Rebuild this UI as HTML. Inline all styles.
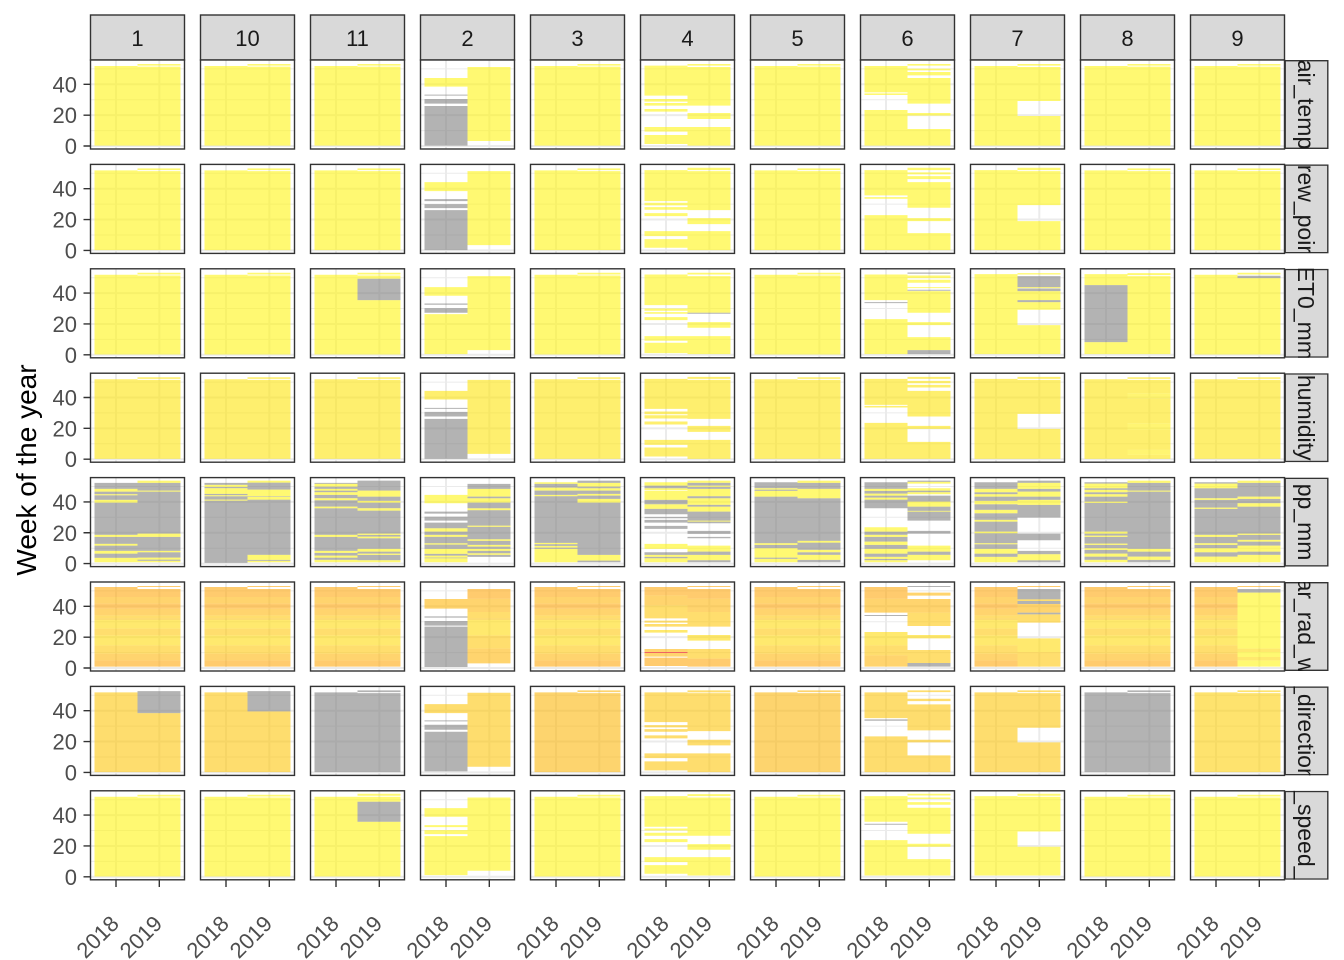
<!DOCTYPE html>
<html><head><meta charset="utf-8"><style>
html,body{margin:0;padding:0;background:#fff}
svg{display:block;font-family:"Liberation Sans",Arial,sans-serif}
.tl{font-size:22px;fill:#4D4D4D}
.st{font-size:22px;fill:#1A1A1A}
.rs{font-size:23px;fill:#1A1A1A}
</style></head><body>
<svg width="1344" height="960" viewBox="0 0 1344 960" xmlns="http://www.w3.org/2000/svg">
<defs>
<g id="bg"><rect width="94" height="89" fill="#fff"/>
<path d="M0 70.6H94M0 39.7H94M0 8.9H94" stroke="#EBEBEB" stroke-width="1" fill="none"/>
<path d="M0 86H94M0 55.15H94M0 24.3H94M25.5 0V89M68.8 0V89" stroke="#EBEBEB" stroke-width="2" fill="none"/></g>
<rect id="bd" x="0" y="0" width="94" height="89" fill="none" stroke="#333" stroke-width="1.4"/>
<path id="D" d="M4 18h43V257H4z M47 12h43V17H47z M47 20h43V257H47z"/>
<g id="SA">
<path fill="#FFA80D" d="M4 15h43V45H4z M4 65h43V80H4z M4 235h43V254H4z"/>
<path fill="#FFB80D" d="M4 45h43V65H4z M4 80h43V100H4z M4 215h43V235H4z"/>
<path fill="#FFC80D" d="M4 100h43V110H4z M4 140h43V160H4z M4 190h43V215H4z"/>
<path fill="#FFDA0D" d="M4 113h43V140H4z M4 160h43V190H4z"/>
<path fill="#F5B400" d="M4 110h43V113H4z"/>
</g>
<g id="SB">
<path fill="#FFA80D" d="M47 12h43V15H47z M47 21h43V45H47z M47 65h43V80H47z M47 235h43V254H47z"/>
<path fill="#FFB80D" d="M47 45h43V65H47z M47 80h43V100H47z M47 215h43V235H47z"/>
<path fill="#FFC80D" d="M47 100h43V110H47z M47 140h43V160H47z M47 190h43V215H47z"/>
<path fill="#FFDA0D" d="M47 113h43V140H47z M47 160h43V190H47z"/>
<path fill="#F5B400" d="M47 110h43V113H47z"/>
</g>
</defs>
<rect width="1344" height="960" fill="#fff"/>

<!-- top strips -->
<g stroke="#333" stroke-width="1.4" fill="#D9D9D9">
<rect x="90.5" y="15" width="94" height="45"/><rect x="200.5" y="15" width="94" height="45"/><rect x="310.5" y="15" width="94" height="45"/><rect x="420.5" y="15" width="94" height="45"/><rect x="530.5" y="15" width="94" height="45"/><rect x="640.5" y="15" width="94" height="45"/><rect x="750.5" y="15" width="94" height="45"/><rect x="860.5" y="15" width="94" height="45"/><rect x="970.5" y="15" width="94" height="45"/><rect x="1080.5" y="15" width="94" height="45"/><rect x="1190.5" y="15" width="94" height="45"/>
</g>
<g class="st" text-anchor="middle">
<text x="137.5" y="46">1</text><text x="247.5" y="46">10</text><text x="357.5" y="46">11</text><text x="467.5" y="46">2</text><text x="577.5" y="46">3</text><text x="687.5" y="46">4</text><text x="797.5" y="46">5</text><text x="907.5" y="46">6</text><text x="1017.5" y="46">7</text><text x="1127.5" y="46">8</text><text x="1237.5" y="46">9</text>
</g>

<!-- right strips -->
<svg x="1284.5" y="60" width="44" height="89"><rect x="0.7" y="0.7" width="42.6" height="87.6" fill="#D9D9D9" stroke="#333" stroke-width="1.4"/><text class="rs" transform="translate(13.5,44.5) rotate(90)" text-anchor="middle">air_temp</text></svg>
<svg x="1284.5" y="164.4" width="44" height="89"><rect x="0.7" y="0.7" width="42.6" height="87.6" fill="#D9D9D9" stroke="#333" stroke-width="1.4"/><text class="rs" transform="translate(13.5,44.5) rotate(90)" text-anchor="middle">rew_poir</text></svg>
<svg x="1284.5" y="268.8" width="44" height="89"><rect x="0.7" y="0.7" width="42.6" height="87.6" fill="#D9D9D9" stroke="#333" stroke-width="1.4"/><text class="rs" transform="translate(13.5,44.5) rotate(90)" text-anchor="middle">ET0_mm</text></svg>
<svg x="1284.5" y="373.2" width="44" height="89"><rect x="0.7" y="0.7" width="42.6" height="87.6" fill="#D9D9D9" stroke="#333" stroke-width="1.4"/><text class="rs" transform="translate(13.5,44.5) rotate(90)" text-anchor="middle">humidity</text></svg>
<svg x="1284.5" y="477.6" width="44" height="89"><rect x="0.7" y="0.7" width="42.6" height="87.6" fill="#D9D9D9" stroke="#333" stroke-width="1.4"/><text class="rs" transform="translate(13.5,44.5) rotate(90)" text-anchor="middle">pp_mm</text></svg>
<svg x="1284.5" y="582" width="44" height="89"><rect x="0.7" y="0.7" width="42.6" height="87.6" fill="#D9D9D9" stroke="#333" stroke-width="1.4"/><text class="rs" transform="translate(13.5,44.5) rotate(90)" text-anchor="middle">ar_rad_w</text></svg>
<svg x="1284.5" y="686.4" width="44" height="89"><rect x="0.7" y="0.7" width="42.6" height="87.6" fill="#D9D9D9" stroke="#333" stroke-width="1.4"/><text class="rs" transform="translate(13.5,44.5) rotate(90)" text-anchor="middle">_direction</text></svg>
<svg x="1284.5" y="790.8" width="44" height="89"><rect x="0.7" y="0.7" width="42.6" height="87.6" fill="#D9D9D9" stroke="#333" stroke-width="1.4"/><text class="rs" transform="translate(13.5,44.5) rotate(90)" text-anchor="middle">_speed_</text></svg>

<!-- ROW 0 air_temp T=60 -->
<g transform="translate(90.5,60)"><use href="#bg"/><g transform="scale(1,.33333)" fill-opacity=".6"><use href="#D" fill="#FFF514"/></g><use href="#bd"/></g>
<g transform="translate(200.5,60)"><use href="#bg"/><g transform="scale(1,.33333)" fill-opacity=".6"><use href="#D" fill="#FFF514"/></g><use href="#bd"/></g>
<g transform="translate(310.5,60)"><use href="#bg"/><g transform="scale(1,.33333)" fill-opacity=".6"><use href="#D" fill="#FFF514"/></g><use href="#bd"/></g>
<g transform="translate(420.5,60)"><use href="#bg"/><g transform="scale(1,.33333)" fill-opacity=".6">
<path fill="#FFF514" d="M4 54h43V80H4z M47 21h43V243H47z"/>
<path fill="#808080" d="M4 104h43V107H4z M4 117h43V131H4z M4 138h43V257H4z"/>
</g><use href="#bd"/></g>
<g transform="translate(530.5,60)"><use href="#bg"/><g transform="scale(1,.33333)" fill-opacity=".6"><use href="#D" fill="#FFF514"/></g><use href="#bd"/></g>
<g transform="translate(640.5,60)"><use href="#bg"/><g transform="scale(1,.33333)" fill-opacity=".6">
<path fill="#FFF514" d="M4 17h43V107H4z M4 117h43V125H4z M4 129h43V137H4z M4 147h43V155H4z M4 201h43V215H4z M4 225h43V252H4z M47 12h43V17H47z M47 21h43V137H47z M47 159h43V177H47z M47 201h43V257H47z"/>
</g><use href="#bd"/></g>
<g transform="translate(750.5,60)"><use href="#bg"/><g transform="scale(1,.33333)" fill-opacity=".6"><use href="#D" fill="#FFF514"/></g><use href="#bd"/></g>
<g transform="translate(860.5,60)"><use href="#bg"/><g transform="scale(1,.33333)" fill-opacity=".6">
<path fill="#FFF514" d="M4 18h43V97H4z M4 100h43V105H4z M4 150h43V257H4z M47 12h43V17H47z M47 26h43V31H47z M47 36h43V46H47z M47 54h43V131H47z M47 159h43V167H47z M47 207h43V257H47z"/>
</g><use href="#bd"/></g>
<g transform="translate(970.5,60)"><use href="#bg"/><g transform="scale(1,.33333)" fill-opacity=".6">
<path fill="#FFF514" d="M4 18h43V257H4z M47 12h43V17H47z M47 21h43V123H47z M47 168h43V257H47z"/>
</g><use href="#bd"/></g>
<g transform="translate(1080.5,60)"><use href="#bg"/><g transform="scale(1,.33333)" fill-opacity=".6"><use href="#D" fill="#FFF514"/></g><use href="#bd"/></g>
<g transform="translate(1190.5,60)"><use href="#bg"/><g transform="scale(1,.33333)" fill-opacity=".6"><use href="#D" fill="#FFF514"/></g><use href="#bd"/></g>

<!-- ROW 1 dew T=164.4 -->
<g transform="translate(90.5,164.4)"><use href="#bg"/><g transform="scale(1,.33333)" fill-opacity=".6"><use href="#D" fill="#FFF514"/></g><use href="#bd"/></g>
<g transform="translate(200.5,164.4)"><use href="#bg"/><g transform="scale(1,.33333)" fill-opacity=".6"><use href="#D" fill="#FFF514"/></g><use href="#bd"/></g>
<g transform="translate(310.5,164.4)"><use href="#bg"/><g transform="scale(1,.33333)" fill-opacity=".6"><use href="#D" fill="#FFF514"/></g><use href="#bd"/></g>
<g transform="translate(420.5,164.4)"><use href="#bg"/><g transform="scale(1,.33333)" fill-opacity=".6">
<path fill="#FFF514" d="M4 53h43V80H4z M47 20h43V242H47z"/>
<path fill="#808080" d="M4 104h43V110H4z M4 119h43V131H4z M4 137h43V257H4z"/>
</g><use href="#bd"/></g>
<g transform="translate(530.5,164.4)"><use href="#bg"/><g transform="scale(1,.33333)" fill-opacity=".6"><use href="#D" fill="#FFF514"/></g><use href="#bd"/></g>
<g transform="translate(640.5,164.4)"><use href="#bg"/><g transform="scale(1,.33333)" fill-opacity=".6">
<path fill="#FFF514" d="M4 17h43V110H4z M4 115h43V123H4z M4 128h43V136H4z M4 146h43V155H4z M4 200h43V215H4z M4 224h43V250H4z M47 10h43V17H47z M47 20h43V137H47z M47 161h43V179H47z M47 200h43V257H47z"/>
</g><use href="#bd"/></g>
<g transform="translate(750.5,164.4)"><use href="#bg"/><g transform="scale(1,.33333)" fill-opacity=".6"><use href="#D" fill="#FFF514"/></g><use href="#bd"/></g>
<g transform="translate(860.5,164.4)"><use href="#bg"/><g transform="scale(1,.33333)" fill-opacity=".6">
<path fill="#FFF514" d="M4 17h43V93H4z M4 98h43V103H4z M4 152h43V257H4z M47 10h43V17H47z M47 24h43V30H47z M47 35h43V44H47z M47 53h43V130H47z M47 161h43V170H47z M47 206h43V257H47z"/>
</g><use href="#bd"/></g>
<g transform="translate(970.5,164.4)"><use href="#bg"/><g transform="scale(1,.33333)" fill-opacity=".6">
<path fill="#FFF514" d="M4 17h43V257H4z M47 10h43V17H47z M47 20h43V122H47z M47 170h43V257H47z"/>
</g><use href="#bd"/></g>
<g transform="translate(1080.5,164.4)"><use href="#bg"/><g transform="scale(1,.33333)" fill-opacity=".6"><use href="#D" fill="#FFF514"/></g><use href="#bd"/></g>
<g transform="translate(1190.5,164.4)"><use href="#bg"/><g transform="scale(1,.33333)" fill-opacity=".6"><use href="#D" fill="#FFF514"/></g><use href="#bd"/></g>

<!-- ROW 2 ET0 T=268.8 -->
<g transform="translate(90.5,268.8)"><use href="#bg"/><g transform="scale(1,.33333)" fill-opacity=".6"><use href="#D" fill="#FFF514"/></g><use href="#bd"/></g>
<g transform="translate(200.5,268.8)"><use href="#bg"/><g transform="scale(1,.33333)" fill-opacity=".6"><use href="#D" fill="#FFF514"/></g><use href="#bd"/></g>
<g transform="translate(310.5,268.8)"><use href="#bg"/><g transform="scale(1,.33333)" fill-opacity=".6">
<path fill="#FFF514" d="M4 18h43V257H4z M47 12h43V17H47z M47 20h43V30H47z M47 94h43V257H47z"/>
<path fill="#808080" d="M47 30h43V94H47z"/>
</g><use href="#bd"/></g>
<g transform="translate(420.5,268.8)"><use href="#bg"/><g transform="scale(1,.33333)" fill-opacity=".6">
<path fill="#FFF514" d="M4 55h43V81H4z M4 136h43V256H4z M47 22h43V244H47z"/>
<path fill="#808080" d="M4 104h43V108H4z M4 118h43V132H4z"/>
</g><use href="#bd"/></g>
<g transform="translate(530.5,268.8)"><use href="#bg"/><g transform="scale(1,.33333)" fill-opacity=".6"><use href="#D" fill="#FFF514"/></g><use href="#bd"/></g>
<g transform="translate(640.5,268.8)"><use href="#bg"/><g transform="scale(1,.33333)" fill-opacity=".6">
<path fill="#FFF514" d="M4 17h43V109H4z M4 119h43V126H4z M4 130h43V135H4z M4 145h43V154H4z M4 202h43V216H4z M4 222h43V253H4z M47 12h43V17H47z M47 22h43V132H47z M47 160h43V177H47z M47 202h43V256H47z"/>
<path fill="#808080" d="M47 132h43V135H47z"/>
</g><use href="#bd"/></g>
<g transform="translate(750.5,268.8)"><use href="#bg"/><g transform="scale(1,.33333)" fill-opacity=".6"><use href="#D" fill="#FFF514"/></g><use href="#bd"/></g>
<g transform="translate(860.5,268.8)"><use href="#bg"/><g transform="scale(1,.33333)" fill-opacity=".6">
<path fill="#FFF514" d="M4 17h43V94H4z M4 151h43V256H4z M47 20h43V28H47z M47 33h43V42H47z M47 55h43V58H47z M47 67h43V132H47z M47 160h43V169H47z M47 205h43V244H47z"/>
<path fill="#808080" d="M4 100h43V103H4z M47 11h43V15H47z M47 63h43V66H47z M47 244h43V256H47z"/>
</g><use href="#bd"/></g>
<g transform="translate(970.5,268.8)"><use href="#bg"/><g transform="scale(1,.33333)" fill-opacity=".6">
<path fill="#FFF514" d="M4 16h43V256H4z M47 13h43V17H47z M47 55h43V58H47z M47 67h43V94H47z M47 100h43V123H47z M47 169h43V256H47z"/>
<path fill="#808080" d="M47 22h43V55H47z M47 59h43V67H47z M47 94h43V100H47z"/>
</g><use href="#bd"/></g>
<g transform="translate(1080.5,268.8)"><use href="#bg"/><g transform="scale(1,.33333)" fill-opacity=".6">
<path fill="#FFF514" d="M4 16h43V49H4z M4 220h43V256H4z M47 13h43V19H47z M47 22h43V256H47z"/>
<path fill="#808080" d="M4 49h43V220H4z"/>
</g><use href="#bd"/></g>
<g transform="translate(1190.5,268.8)"><use href="#bg"/><g transform="scale(1,.33333)" fill-opacity=".6">
<path fill="#FFF514" d="M4 18h43V257H4z M47 12h43V17H47z M47 28h43V257H47z"/>
<path fill="#808080" d="M47 21h43V28H47z"/>
</g><use href="#bd"/></g>

<!-- ROW 3 humidity T=373.2 -->
<g transform="translate(90.5,373.2)"><use href="#bg"/><g transform="scale(1,.33333)" fill-opacity=".6"><use href="#D" fill="#FDE40D"/></g><use href="#bd"/></g>
<g transform="translate(200.5,373.2)"><use href="#bg"/><g transform="scale(1,.33333)" fill-opacity=".6"><use href="#D" fill="#FDE40D"/></g><use href="#bd"/></g>
<g transform="translate(310.5,373.2)"><use href="#bg"/><g transform="scale(1,.33333)" fill-opacity=".6"><use href="#D" fill="#FDE40D"/></g><use href="#bd"/></g>
<g transform="translate(420.5,373.2)"><use href="#bg"/><g transform="scale(1,.33333)" fill-opacity=".6">
<path fill="#FDE40D" d="M4 53h43V79H4z M47 20h43V242H47z"/>
<path fill="#808080" d="M4 104h43V107H4z M4 116h43V130H4z M4 137h43V257H4z"/>
</g><use href="#bd"/></g>
<g transform="translate(530.5,373.2)"><use href="#bg"/><g transform="scale(1,.33333)" fill-opacity=".6"><use href="#D" fill="#FDE40D"/></g><use href="#bd"/></g>
<g transform="translate(640.5,373.2)"><use href="#bg"/><g transform="scale(1,.33333)" fill-opacity=".6">
<path fill="#FDE40D" d="M4 17h43V107H4z M4 115h43V123H4z M4 126h43V136H4z M4 145h43V154H4z M4 200h43V215H4z M4 223h43V250H4z M47 11h43V17H47z M47 20h43V137H47z M47 158h43V176H47z M47 200h43V257H47z"/>
</g><use href="#bd"/></g>
<g transform="translate(750.5,373.2)"><use href="#bg"/><g transform="scale(1,.33333)" fill-opacity=".6"><use href="#D" fill="#FDE40D"/></g><use href="#bd"/></g>
<g transform="translate(860.5,373.2)"><use href="#bg"/><g transform="scale(1,.33333)" fill-opacity=".6">
<path fill="#FDE40D" d="M4 17h43V95H4z M4 98h43V103H4z M4 149h43V257H4z M47 11h43V17H47z M47 23h43V30H47z M47 35h43V43H47z M47 53h43V130H47z M47 158h43V167H47z M47 206h43V257H47z"/>
</g><use href="#bd"/></g>
<g transform="translate(970.5,373.2)"><use href="#bg"/><g transform="scale(1,.33333)" fill-opacity=".6">
<path fill="#FDE40D" d="M4 17h43V257H4z M47 11h43V17H47z M47 20h43V122H47z M47 167h43V257H47z"/>
</g><use href="#bd"/></g>
<g transform="translate(1080.5,373.2)"><use href="#bg"/><g transform="scale(1,.33333)" fill-opacity=".6">
<path fill="#FDE40D" d="M4 18h43V257H4z M47 12h43V17H47z M47 20h43V60H47z M47 75h43V150H47z M47 170h43V230H47z M47 245h43V257H47z"/>
<path fill="#FFEF14" d="M47 60h43V75H47z M47 150h43V170H47z M47 230h43V245H47z"/>
</g><use href="#bd"/></g>
<g transform="translate(1190.5,373.2)"><use href="#bg"/><g transform="scale(1,.33333)" fill-opacity=".6"><use href="#D" fill="#FDE40D"/></g><use href="#bd"/></g>

<!-- ROW 4 pp_mm T=477.6 -->
<g transform="translate(90.5,477.6)"><use href="#bg"/><g transform="scale(1,.33333)" fill-opacity=".6">
<path fill="#808080" d="M4 16h43V34H4z M4 42h43V50H4z M4 53h43V67H4z M4 75h43V172H4z M4 178h43V199H4z M4 204h43V220H4z M4 228h43V241H4z M47 16h43V39H47z M47 42h43V168H47z M47 178h43V220H47z M47 224h43V240H47z M47 246h43V250H47z"/>
<path fill="#FFF514" d="M4 34h43V42H4z M4 50h43V53H4z M4 67h43V75H4z M4 172h43V178H4z M4 199h43V204H4z M4 220h43V228H4z M4 241h43V254H4z M47 9h43V16H47z M47 39h43V42H47z M47 168h43V178H47z M47 220h43V224H47z M47 240h43V246H47z M47 250h43V254H47z"/>
</g><use href="#bd"/></g>
<g transform="translate(200.5,477.6)"><use href="#bg"/><g transform="scale(1,.33333)" fill-opacity=".6">
<path fill="#808080" d="M4 16h43V22H4z M4 28h43V32H4z M4 49h43V53H4z M4 56h43V66H4z M4 69h43V256H4z M47 15h43V36H47z M47 56h43V58H47z M47 66h43V232H47z M47 247h43V250H47z"/>
<path fill="#FFF514" d="M4 22h43V28H4z M4 32h43V49H4z M4 53h43V56H4z M4 66h43V69H4z M47 9h43V15H47z M47 36h43V56H47z M47 58h43V66H47z M47 232h43V247H47z M47 250h43V254H47z"/>
</g><use href="#bd"/></g>
<g transform="translate(310.5,477.6)"><use href="#bg"/><g transform="scale(1,.33333)" fill-opacity=".6">
<path fill="#808080" d="M4 16h43V19H4z M4 27h43V34H4z M4 39h43V44H4z M4 52h43V62H4z M4 68h43V87H4z M4 92h43V172H4z M4 178h43V220H4z M4 226h43V234H4z M4 240h43V247H4z M47 9h43V39H47z M47 57h43V70H47z M47 75h43V92H47z M47 99h43V168H47z M47 172h43V177H47z M47 182h43V214H47z M47 222h43V228H47z M47 232h43V248H47z"/>
<path fill="#FFF514" d="M4 19h43V27H4z M4 34h43V39H4z M4 44h43V52H4z M4 62h43V68H4z M4 87h43V92H4z M4 172h43V178H4z M4 220h43V226H4z M4 234h43V240H4z M4 247h43V254H4z M47 39h43V57H47z M47 70h43V75H47z M47 92h43V99H47z M47 168h43V172H47z M47 177h43V182H47z M47 214h43V222H47z M47 228h43V232H47z M47 248h43V254H47z"/>
</g><use href="#bd"/></g>
<g transform="translate(420.5,477.6)"><use href="#bg"/><g transform="scale(1,.33333)" fill-opacity=".6">
<path fill="#FFF514" d="M4 52h43V77H4z M4 152h43V162H4z M4 172h43V178H4z M4 197h43V201H4z M4 214h43V229H4z M4 234h43V240H4z M4 242h43V254H4z M47 34h43V57H47z M47 62h43V75H47z M47 92h43V98H47z M47 144h43V148H47z M47 185h43V190H47z M47 202h43V207H47z M47 214h43V220H47z M47 227h43V232H47z"/>
<path fill="#808080" d="M4 102h43V108H4z M4 117h43V129H4z M4 135h43V152H4z M4 162h43V172H4z M4 178h43V197H4z M4 201h43V214H4z M4 229h43V234H4z M4 240h43V242H4z M47 19h43V34H47z M47 57h43V62H47z M47 75h43V92H47z M47 98h43V144H47z M47 148h43V185H47z M47 190h43V202H47z M47 207h43V214H47z M47 220h43V227H47z M47 232h43V238H47z"/>
</g><use href="#bd"/></g>
<g transform="translate(530.5,477.6)"><use href="#bg"/><g transform="scale(1,.33333)" fill-opacity=".6">
<path fill="#FFF514" d="M4 14h43V19H4z M4 30h43V39H4z M4 52h43V56H4z M4 196h43V200H4z M4 205h43V210H4z M4 214h43V254H4z M47 16h43V27H47z M47 32h43V39H47z M47 49h43V54H47z M47 64h43V75H47z M47 232h43V249H47z"/>
<path fill="#808080" d="M4 19h43V30H4z M4 39h43V52H4z M4 56h43V196H4z M4 200h43V205H4z M4 210h43V214H4z M47 9h43V16H47z M47 27h43V32H47z M47 39h43V49H47z M47 54h43V64H47z M47 75h43V232H47z M47 249h43V254H47z"/>
</g><use href="#bd"/></g>
<g transform="translate(640.5,477.6)"><use href="#bg"/><g transform="scale(1,.33333)" fill-opacity=".6">
<path fill="#FFF514" d="M4 14h43V24H4z M4 32h43V38H4z M4 40h43V67H4z M4 80h43V94H4z M4 199h43V214H4z M4 232h43V238H4z M4 242h43V254H4z M47 9h43V16H47z M47 24h43V28H47z M47 34h43V56H47z M47 62h43V82H47z M47 87h43V102H47z M47 129h43V132H47z M47 204h43V222H47z M47 232h43V248H47z"/>
<path fill="#808080" d="M4 24h43V32H4z M4 67h43V80H4z M4 94h43V110H4z M4 118h43V122H4z M4 127h43V135H4z M4 145h43V154H4z M4 224h43V232H4z M4 238h43V242H4z M47 16h43V24H47z M47 28h43V34H47z M47 56h43V62H47z M47 82h43V87H47z M47 102h43V129H47z M47 132h43V137H47z M47 160h43V169H47z M47 178h43V182H47z M47 222h43V232H47z M47 248h43V254H47z"/>
</g><use href="#bd"/></g>
<g transform="translate(750.5,477.6)"><use href="#bg"/><g transform="scale(1,.33333)" fill-opacity=".6">
<path fill="#808080" d="M4 14h43V32H4z M4 36h43V40H4z M4 57h43V197H4z M4 202h43V212H4z M4 240h43V244H4z M47 16h43V34H47z M47 62h43V190H47z M47 195h43V217H47z M47 224h43V232H47z M47 247h43V254H47z"/>
<path fill="#FFF514" d="M4 32h43V36H4z M4 40h43V57H4z M4 197h43V202H4z M4 212h43V240H4z M4 244h43V254H4z M47 9h43V16H47z M47 34h43V62H47z M47 190h43V195H47z M47 217h43V224H47z M47 232h43V247H47z"/>
</g><use href="#bd"/></g>
<g transform="translate(860.5,477.6)"><use href="#bg"/><g transform="scale(1,.33333)" fill-opacity=".6">
<path fill="#808080" d="M4 14h43V34H4z M4 40h43V48H4z M4 54h43V60H4z M4 66h43V92H4z M4 162h43V172H4z M4 178h43V192H4z M4 202h43V214H4z M4 228h43V238H4z M4 244h43V248H4z M47 9h43V13H47z M47 39h43V44H47z M47 54h43V72H47z M47 87h43V100H47z M47 102h43V129H47z M47 160h43V168H47z M47 222h43V232H47z"/>
<path fill="#FFF514" d="M4 34h43V40H4z M4 48h43V54H4z M4 60h43V66H4z M4 149h43V162H4z M4 172h43V178H4z M4 192h43V202H4z M4 214h43V228H4z M4 238h43V244H4z M4 248h43V254H4z M47 13h43V18H47z M47 32h43V39H47z M47 44h43V50H47z M47 72h43V87H47z M47 100h43V102H47z M47 204h43V222H47z M47 232h43V248H47z"/>
</g><use href="#bd"/></g>
<g transform="translate(970.5,477.6)"><use href="#bg"/><g transform="scale(1,.33333)" fill-opacity=".6">
<path fill="#808080" d="M4 14h43V34H4z M4 44h43V50H4z M4 57h43V70H4z M4 80h43V97H4z M4 107h43V127H4z M4 132h43V162H4z M4 167h43V197H4z M4 200h43V214H4z M4 228h43V238H4z M47 9h43V16H47z M47 34h43V42H47z M47 57h43V67H47z M47 82h43V120H47z M47 168h43V188H47z M47 220h43V230H47z M47 248h43V254H47z"/>
<path fill="#FFF514" d="M4 34h43V44H4z M4 50h43V57H4z M4 70h43V80H4z M4 97h43V107H4z M4 127h43V132H4z M4 162h43V167H4z M4 197h43V200H4z M4 214h43V228H4z M4 238h43V254H4z M47 16h43V34H47z M47 42h43V57H47z M47 67h43V82H47z M47 230h43V248H47z"/>
</g><use href="#bd"/></g>
<g transform="translate(1080.5,477.6)"><use href="#bg"/><g transform="scale(1,.33333)" fill-opacity=".6">
<path fill="#808080" d="M4 14h43V18H4z M4 32h43V37H4z M4 44h43V50H4z M4 57h43V72H4z M4 76h43V162H4z M4 168h43V174H4z M4 178h43V198H4z M4 202h43V212H4z M4 217h43V228H4z M4 237h43V247H4z M47 16h43V39H47z M47 42h43V214H47z M47 222h43V237H47z M47 247h43V254H47z"/>
<path fill="#FFF514" d="M4 18h43V32H4z M4 37h43V44H4z M4 50h43V57H4z M4 72h43V76H4z M4 162h43V168H4z M4 174h43V178H4z M4 198h43V202H4z M4 212h43V217H4z M4 228h43V237H4z M4 247h43V254H4z M47 9h43V16H47z M47 39h43V42H47z M47 214h43V222H47z M47 237h43V247H47z"/>
</g><use href="#bd"/></g>
<g transform="translate(1190.5,477.6)"><use href="#bg"/><g transform="scale(1,.33333)" fill-opacity=".6">
<path fill="#808080" d="M4 14h43V18H4z M4 32h43V62H4z M4 67h43V90H4z M4 94h43V172H4z M4 178h43V197H4z M4 202h43V212H4z M4 224h43V237H4z M47 16h43V57H47z M47 64h43V77H47z M47 87h43V168H47z M47 172h43V187H47z M47 192h43V204H47z M47 222h43V232H47z"/>
<path fill="#FFF514" d="M4 18h43V32H4z M4 62h43V67H4z M4 90h43V94H4z M4 172h43V178H4z M4 197h43V202H4z M4 212h43V224H4z M4 237h43V254H4z M47 9h43V16H47z M47 57h43V64H47z M47 77h43V87H47z M47 168h43V172H47z M47 187h43V192H47z M47 204h43V222H47z M47 232h43V254H47z"/>
</g><use href="#bd"/></g>

<!-- ROW 5 solar T=582 -->
<g transform="translate(90.5,582)"><use href="#bg"/><g transform="scale(1,.33333)" fill-opacity=".6"><use href="#SA"/><use href="#SB"/></g><use href="#bd"/></g>
<g transform="translate(200.5,582)"><use href="#bg"/><g transform="scale(1,.33333)" fill-opacity=".6"><use href="#SA"/><use href="#SB"/></g><use href="#bd"/></g>
<g transform="translate(310.5,582)"><use href="#bg"/><g transform="scale(1,.33333)" fill-opacity=".6"><use href="#SA"/><use href="#SB"/></g><use href="#bd"/></g>
<g transform="translate(420.5,582)"><use href="#bg"/><g transform="scale(1,.33333)" fill-opacity=".6">
<path fill="#FFB80D" d="M4 51h43V80H4z M47 50h43V90H47z M47 200h43V244H47z"/>
<path fill="#808080" d="M4 103h43V107H4z M4 117h43V131H4z M4 134h43V255H4z"/>
<path fill="#FFA80D" d="M47 21h43V50H47z"/>
<path fill="#FFC80D" d="M47 90h43V110H47z M47 160h43V200H47z"/>
<path fill="#FFDA0D" d="M47 113h43V160H47z"/>
<path fill="#F5B400" d="M47 110h43V113H47z"/>
</g><use href="#bd"/></g>
<g transform="translate(530.5,582)"><use href="#bg"/><g transform="scale(1,.33333)" fill-opacity=".6"><use href="#SA"/><use href="#SB"/></g><use href="#bd"/></g>
<g transform="translate(640.5,582)"><use href="#bg"/><g transform="scale(1,.33333)" fill-opacity=".6">
<path fill="#FFA80D" d="M4 15h43V40H4z M4 227h43V252H4z M47 12h43V15H47z M47 21h43V50H47z M47 230h43V254H47z"/>
<path fill="#FFB80D" d="M4 40h43V70H4z M4 201h43V210H4z M4 213h43V224H4z M47 50h43V90H47z"/>
<path fill="#FFC80D" d="M4 70h43V109H4z M4 116h43V122H4z M4 126h43V134H4z M47 90h43V134H47z M47 201h43V230H47z"/>
<path fill="#FFDA0D" d="M4 144h43V152H4z M47 159h43V176H47z"/>
<path fill="#F00808" d="M4 210h43V213H4z"/>
</g><use href="#bd"/></g>
<g transform="translate(750.5,582)"><use href="#bg"/><g transform="scale(1,.33333)" fill-opacity=".6"><use href="#SA"/><use href="#SB"/></g><use href="#bd"/></g>
<g transform="translate(860.5,582)"><use href="#bg"/><g transform="scale(1,.33333)" fill-opacity=".6">
<path fill="#FFA80D" d="M4 15h43V50H4z"/>
<path fill="#FFB80D" d="M4 50h43V92H4z M4 220h43V254H4z M47 32h43V41H47z M47 51h43V92H47z"/>
<path fill="#FFC80D" d="M4 190h43V220H4z M47 92h43V132H47z M47 204h43V243H47z"/>
<path fill="#FFDA0D" d="M4 150h43V190H4z M47 159h43V169H47z"/>
<path fill="#808080" d="M4 99h43V102H4z M47 12h43V15H47z M47 243h43V254H47z"/>
</g><use href="#bd"/></g>
<g transform="translate(970.5,582)"><use href="#bg"/><g transform="scale(1,.33333)" fill-opacity=".6"><use href="#SA"/>
<path fill="#FFA80D" d="M47 12h43V15H47z"/>
<path fill="#808080" d="M47 21h43V52H47z M47 57h43V66H47z M47 92h43V97H47z"/>
<path fill="#FFC80D" d="M47 52h43V57H47z M47 97h43V122H47z M47 210h43V254H47z"/>
<path fill="#FFB80D" d="M47 66h43V92H47z"/>
<path fill="#FFDA0D" d="M47 169h43V210H47z"/>
</g><use href="#bd"/></g>
<g transform="translate(1080.5,582)"><use href="#bg"/><g transform="scale(1,.33333)" fill-opacity=".6"><use href="#SA"/><use href="#SB"/></g><use href="#bd"/></g>
<g transform="translate(1190.5,582)"><use href="#bg"/><g transform="scale(1,.33333)" fill-opacity=".6"><use href="#SA"/>
<path fill="#FFA80D" d="M47 12h43V15H47z"/>
<path fill="#808080" d="M47 21h43V32H47z"/>
<path fill="#FFF514" d="M47 32h43V200H47z M47 210h43V225H47z M47 235h43V254H47z"/>
<path fill="#FFDA0D" d="M47 200h43V210H47z M47 225h43V235H47z"/>
</g><use href="#bd"/></g>

<!-- ROW 6 wind direction T=686.4 -->
<g transform="translate(90.5,686.4)"><use href="#bg"/><g transform="scale(1,.33333)" fill-opacity=".6">
<path fill="#FDC70D" d="M4 18h43V257H4z M47 80h43V257H47z"/>
<path fill="#808080" d="M47 14h43V80H47z"/>
</g><use href="#bd"/></g>
<g transform="translate(200.5,686.4)"><use href="#bg"/><g transform="scale(1,.33333)" fill-opacity=".6">
<path fill="#FDC70D" d="M4 18h43V257H4z M47 75h43V257H47z"/>
<path fill="#808080" d="M47 14h43V75H47z"/>
</g><use href="#bd"/></g>
<g transform="translate(310.5,686.4)"><use href="#bg"/><g transform="scale(1,.33333)" fill-opacity=".6"><use href="#D" fill="#808080"/></g><use href="#bd"/></g>
<g transform="translate(420.5,686.4)"><use href="#bg"/><g transform="scale(1,.33333)" fill-opacity=".6">
<path fill="#FDC70D" d="M4 53h43V80H4z M47 19h43V241H47z"/>
<path fill="#808080" d="M4 102h43V105H4z M4 115h43V130H4z M4 136h43V255H4z"/>
</g><use href="#bd"/></g>
<g transform="translate(530.5,686.4)"><use href="#bg"/><g transform="scale(1,.33333)" fill-opacity=".6"><use href="#D" fill="#FBB70D"/></g><use href="#bd"/></g>
<g transform="translate(640.5,686.4)"><use href="#bg"/><g transform="scale(1,.33333)" fill-opacity=".6">
<path fill="#FDC70D" d="M4 18h43V107H4z M4 116h43V123H4z M4 128h43V136H4z M4 147h43V156H4z M4 201h43V215H4z M4 225h43V252H4z M47 12h43V18H47z M47 20h43V134H47z M47 160h43V177H47z M47 201h43V257H47z"/>
</g><use href="#bd"/></g>
<g transform="translate(750.5,686.4)"><use href="#bg"/><g transform="scale(1,.33333)" fill-opacity=".6"><use href="#D" fill="#FBB70D"/></g><use href="#bd"/></g>
<g transform="translate(860.5,686.4)"><use href="#bg"/><g transform="scale(1,.33333)" fill-opacity=".6">
<path fill="#FDC70D" d="M4 18h43V95H4z M4 150h43V257H4z M47 12h43V17H47z M47 37h43V44H47z M47 54h43V132H47z M47 160h43V168H47z M47 207h43V257H47z"/>
<path fill="#808080" d="M4 99h43V103H4z"/>
</g><use href="#bd"/></g>
<g transform="translate(970.5,686.4)"><use href="#bg"/><g transform="scale(1,.33333)" fill-opacity=".6">
<path fill="#FDC70D" d="M4 18h43V257H4z M47 12h43V17H47z M47 20h43V124H47z M47 168h43V257H47z"/>
</g><use href="#bd"/></g>
<g transform="translate(1080.5,686.4)"><use href="#bg"/><g transform="scale(1,.33333)" fill-opacity=".6"><use href="#D" fill="#808080"/></g><use href="#bd"/></g>
<g transform="translate(1190.5,686.4)"><use href="#bg"/><g transform="scale(1,.33333)" fill-opacity=".6"><use href="#D" fill="#FDD00D"/></g><use href="#bd"/></g>

<!-- ROW 7 wind speed T=790.8 -->
<g transform="translate(90.5,790.8)"><use href="#bg"/><g transform="scale(1,.33333)" fill-opacity=".6"><use href="#D" fill="#FFF514"/></g><use href="#bd"/></g>
<g transform="translate(200.5,790.8)"><use href="#bg"/><g transform="scale(1,.33333)" fill-opacity=".6"><use href="#D" fill="#FFF514"/></g><use href="#bd"/></g>
<g transform="translate(310.5,790.8)"><use href="#bg"/><g transform="scale(1,.33333)" fill-opacity=".6">
<path fill="#FFF514" d="M4 18h43V257H4z M47 9h43V15H47z M47 18h43V33H47z M47 93h43V257H47z"/>
<path fill="#808080" d="M47 33h43V93H47z"/>
</g><use href="#bd"/></g>
<g transform="translate(420.5,790.8)"><use href="#bg"/><g transform="scale(1,.33333)" fill-opacity=".6">
<path fill="#FFF514" d="M4 52h43V78H4z M4 103h43V109H4z M4 118h43V130H4z M4 136h43V253H4z M47 20h43V240H47z"/>
</g><use href="#bd"/></g>
<g transform="translate(530.5,790.8)"><use href="#bg"/><g transform="scale(1,.33333)" fill-opacity=".6"><use href="#D" fill="#FFF514"/></g><use href="#bd"/></g>
<g transform="translate(640.5,790.8)"><use href="#bg"/><g transform="scale(1,.33333)" fill-opacity=".6">
<path fill="#FFF514" d="M4 16h43V108H4z M4 113h43V119H4z M4 126h43V135H4z M4 145h43V154H4z M4 199h43V214H4z M4 223h43V249H4z M47 10h43V16H47z M47 20h43V135H47z M47 160h43V177H47z M47 199h43V254H47z"/>
</g><use href="#bd"/></g>
<g transform="translate(750.5,790.8)"><use href="#bg"/><g transform="scale(1,.33333)" fill-opacity=".6"><use href="#D" fill="#FFF514"/></g><use href="#bd"/></g>
<g transform="translate(860.5,790.8)"><use href="#bg"/><g transform="scale(1,.33333)" fill-opacity=".6">
<path fill="#FFF514" d="M4 16h43V93H4z M4 148h43V254H4z M47 9h43V14H47z M47 20h43V25H47z M47 34h43V42H47z M47 51h43V129H47z M47 159h43V168H47z M47 205h43V254H47z"/>
<path fill="#808080" d="M4 99h43V102H4z"/>
</g><use href="#bd"/></g>
<g transform="translate(970.5,790.8)"><use href="#bg"/><g transform="scale(1,.33333)" fill-opacity=".6">
<path fill="#FFF514" d="M4 16h43V254H4z M47 9h43V15H47z M47 18h43V122H47z M47 168h43V254H47z"/>
</g><use href="#bd"/></g>
<g transform="translate(1080.5,790.8)"><use href="#bg"/><g transform="scale(1,.33333)" fill-opacity=".6"><use href="#D" fill="#FFF514"/></g><use href="#bd"/></g>
<g transform="translate(1190.5,790.8)"><use href="#bg"/><g transform="scale(1,.33333)" fill-opacity=".6"><use href="#D" fill="#FFF514"/></g><use href="#bd"/></g>

<!-- Y axis ticks -->
<path stroke="#333" stroke-width="1.4" fill="none" d="M83.5 146H90.5M83.5 115.15H90.5M83.5 84.3H90.5M83.5 250.4H90.5M83.5 219.55H90.5M83.5 188.7H90.5M83.5 354.8H90.5M83.5 323.95H90.5M83.5 293.1H90.5M83.5 459.2H90.5M83.5 428.35H90.5M83.5 397.5H90.5M83.5 563.6H90.5M83.5 532.75H90.5M83.5 501.9H90.5M83.5 668H90.5M83.5 637.15H90.5M83.5 606.3H90.5M83.5 772.4H90.5M83.5 741.55H90.5M83.5 710.7H90.5M83.5 876.8H90.5M83.5 845.95H90.5M83.5 815.1H90.5"/>
<g class="tl" text-anchor="end">
<text x="77" y="154">0</text><text x="77" y="123.15">20</text><text x="77" y="92.3">40</text>
<text x="77" y="258.4">0</text><text x="77" y="227.55">20</text><text x="77" y="196.7">40</text>
<text x="77" y="362.8">0</text><text x="77" y="331.95">20</text><text x="77" y="301.1">40</text>
<text x="77" y="467.2">0</text><text x="77" y="436.35">20</text><text x="77" y="405.5">40</text>
<text x="77" y="571.6">0</text><text x="77" y="540.75">20</text><text x="77" y="509.9">40</text>
<text x="77" y="676">0</text><text x="77" y="645.15">20</text><text x="77" y="614.3">40</text>
<text x="77" y="780.4">0</text><text x="77" y="749.55">20</text><text x="77" y="718.7">40</text>
<text x="77" y="884.8">0</text><text x="77" y="853.95">20</text><text x="77" y="823.1">40</text>
</g>

<!-- X axis ticks -->
<path stroke="#333" stroke-width="1.4" fill="none" d="M116 880V887M159.3 880V887M226 880V887M269.3 880V887M336 880V887M379.3 880V887M446 880V887M489.3 880V887M556 880V887M599.3 880V887M666 880V887M709.3 880V887M776 880V887M819.3 880V887M886 880V887M929.3 880V887M996 880V887M1039.3 880V887M1106 880V887M1149.3 880V887M1216 880V887M1259.3 880V887"/>
<g class="tl" text-anchor="end">
<text transform="translate(114.8,919.5) rotate(-45)" dy=".35em">2018</text><text transform="translate(158.1,919.5) rotate(-45)" dy=".35em">2019</text>
<text transform="translate(224.8,919.5) rotate(-45)" dy=".35em">2018</text><text transform="translate(268.1,919.5) rotate(-45)" dy=".35em">2019</text>
<text transform="translate(334.8,919.5) rotate(-45)" dy=".35em">2018</text><text transform="translate(378.1,919.5) rotate(-45)" dy=".35em">2019</text>
<text transform="translate(444.8,919.5) rotate(-45)" dy=".35em">2018</text><text transform="translate(488.1,919.5) rotate(-45)" dy=".35em">2019</text>
<text transform="translate(554.8,919.5) rotate(-45)" dy=".35em">2018</text><text transform="translate(598.1,919.5) rotate(-45)" dy=".35em">2019</text>
<text transform="translate(664.8,919.5) rotate(-45)" dy=".35em">2018</text><text transform="translate(708.1,919.5) rotate(-45)" dy=".35em">2019</text>
<text transform="translate(774.8,919.5) rotate(-45)" dy=".35em">2018</text><text transform="translate(818.1,919.5) rotate(-45)" dy=".35em">2019</text>
<text transform="translate(884.8,919.5) rotate(-45)" dy=".35em">2018</text><text transform="translate(928.1,919.5) rotate(-45)" dy=".35em">2019</text>
<text transform="translate(994.8,919.5) rotate(-45)" dy=".35em">2018</text><text transform="translate(1038.1,919.5) rotate(-45)" dy=".35em">2019</text>
<text transform="translate(1104.8,919.5) rotate(-45)" dy=".35em">2018</text><text transform="translate(1148.1,919.5) rotate(-45)" dy=".35em">2019</text>
<text transform="translate(1214.8,919.5) rotate(-45)" dy=".35em">2018</text><text transform="translate(1258.1,919.5) rotate(-45)" dy=".35em">2019</text>
</g>

<!-- Y title -->
<text transform="translate(36,470) rotate(-90)" text-anchor="middle" font-size="28" fill="#000">Week of the year</text>
</svg>
</body></html>
